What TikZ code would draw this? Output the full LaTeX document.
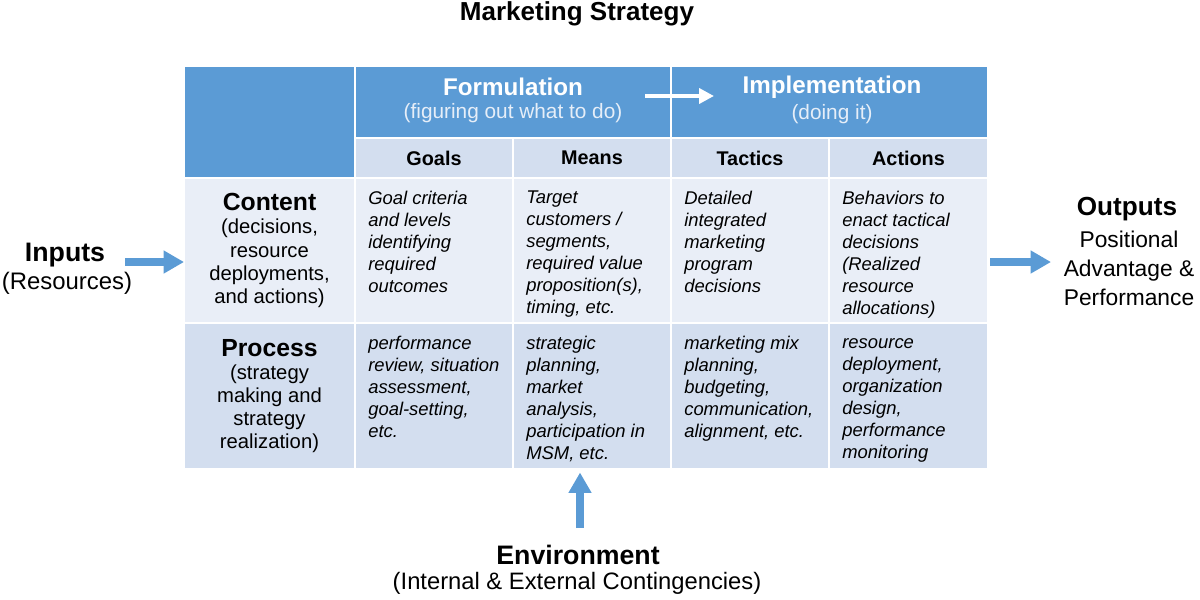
\documentclass[tikz,border=0pt]{standalone}
\usepackage{fontspec}
\setmainfont{Liberation Sans}
\usetikzlibrary{arrows.meta, positioning, fit}
\definecolor{msBlue}{HTML}{5B9BD5}
\definecolor{msBand}{HTML}{D3DEEF}
\definecolor{msLight}{HTML}{E9EEF7}
\definecolor{msSubtle}{HTML}{E6EEF8}
\tikzset{
  mscell/.style={draw=white, line width=2pt, fill=#1, inner sep=0pt, outer sep=0pt},
  mshead/.style={text=white, align=center, inner sep=0pt,
    font=\fontsize{17.2}{20}\selectfont\bfseries},
  mssubhead/.style={text=msSubtle, align=center, inner sep=0pt,
    font=\fontsize{14.8}{17}\selectfont},
  mscolhead/.style={align=center, inner sep=0pt,
    font=\fontsize{14.1}{16}\selectfont\bfseries},
  msrowhead/.style={align=center, inner sep=0pt,
    font=\fontsize{14.4}{16.4}\selectfont},
  mstext/.style={align=left, anchor=north west, inner sep=0pt,
    font=\fontsize{13.1}{15.6}\selectfont\itshape},
  msarrow/.style={-{Triangle[length=14.5pt, width=15.5pt]}, line width=5.6pt, draw=msBlue},
}

\begin{document}
\begin{tikzpicture}[x=0.025cm, y=-0.025cm]
  \useasboundingbox (0,0) rectangle (1200,599);

  % --- title ---------------------------------------------------------------
  \node[font=\fontsize{18.5}{21}\selectfont\bfseries] (title) at (577,14) {Marketing Strategy};

  % --- table cells -------------------------------------------------------
  \node[mscell=msBlue, fit={(184,66) (355,178)}]  (corner) {};
  \node[mscell=msBlue, fit={(355,66) (671,138)}]  (form)   {};
  \node[mscell=msBlue, fit={(671,66) (988,138)}]  (impl)   {};

  \node[mscell=msBand, fit={(355,138) (513,178)}] (goalsH) {};
  \node[mscell=msBand, fit={(513,138) (671,178)}] (meansH) {};
  \node[mscell=msBand, fit={(671,138) (829,178)}] (tactH)  {};
  \node[mscell=msBand, fit={(829,138) (988,178)}] (actH)   {};

  \node[mscell=msLight, fit={(184,178) (355,323)}] (contentR) {};
  \node[mscell=msLight, fit={(355,178) (513,323)}] (goalsC)   {};
  \node[mscell=msLight, fit={(513,178) (671,323)}] (meansC)   {};
  \node[mscell=msLight, fit={(671,178) (829,323)}] (tactC)    {};
  \node[mscell=msLight, fit={(829,178) (988,323)}] (actC)     {};

  \node[mscell=msBand, fit={(184,323) (355,469)}] (processR) {};
  \node[mscell=msBand, fit={(355,323) (513,469)}] (goalsP)   {};
  \node[mscell=msBand, fit={(513,323) (671,469)}] (meansP)   {};
  \node[mscell=msBand, fit={(671,323) (829,469)}] (tactP)    {};
  \node[mscell=msBand, fit={(829,323) (988,469)}] (actP)     {};

  % --- header texts --------------------------------------------------------
  \node[mshead]    (formT)  at (513,87)  {Formulation};
  \node[mssubhead] (formS)  at (513,113) {(figuring out what to do)};
  \node[mshead]    (implT)  at (832,87)  {Implementation};
  \node[mssubhead] (implS)  at (832,114) {(doing it)};
  \coordinate (fiStart) at (645,96);
  \coordinate (fiEnd)   at (714,96);
  \draw[-{Triangle[length=10.5pt, width=10.5pt]}, line width=2.8pt, draw=white] (fiStart) -- (fiEnd);

  \node[mscolhead] at (goalsH) {Goals};
  \node[mscolhead] at (meansH) {Means};
  \node[mscolhead] at (tactH)  {Tactics};
  \node[mscolhead] at (actH)   {Actions};

  % --- row headers ---------------------------------------------------------
  \node[msrowhead] (contentT) at (contentR) {{\fontsize{17.6}{20}\selectfont\bfseries Content}\\(decisions,\\resource\\deployments,\\and actions)};
  \node[msrowhead] (processT) at (processR) {{\fontsize{17.6}{20}\selectfont\bfseries Process}\\(strategy\\making and\\strategy\\realization)};

  % --- cell texts ----------------------------------------------------------
  \node[mstext] (goalsCt) at ([shift={(13,13)}]goalsC.north west) {Goal criteria\\and levels\\identifying\\required\\outcomes};
  \node[mstext] (meansCt) at ([shift={(13,13)}]meansC.north west) {Target\\customers /\\segments,\\required value\\proposition(s),\\timing, etc.};
  \node[mstext] (tactCt)  at ([shift={(13,13)}]tactC.north west)  {Detailed\\integrated\\marketing\\program\\decisions};
  \node[mstext] (actCt)   at ([shift={(13,13)}]actC.north west)   {Behaviors to\\enact tactical\\decisions\\(Realized\\resource\\allocations)};

  \node[mstext] (goalsPt) at ([shift={(13,13)}]goalsP.north west) {performance\\review, situation\\assessment,\\goal-setting,\\etc.};
  \node[mstext] (meansPt) at ([shift={(13,13)}]meansP.north west) {strategic\\planning,\\market\\analysis,\\participation in\\MSM, etc.};
  \node[mstext] (tactPt)  at ([shift={(13,13)}]tactP.north west)  {marketing mix\\planning,\\budgeting,\\communication,\\alignment, etc.};
  \node[mstext] (actPt)   at ([shift={(13,13)}]actP.north west)   {\vphantom{T}resource\\deployment,\\organization\\design,\\performance\\monitoring};

  % --- inputs / outputs / environment ---------------------------------------
  \node[font=\fontsize{19}{22}\selectfont\bfseries]  (inputs)   at (65,255) {Inputs};
  \node[font=\fontsize{17}{20}\selectfont]           (inputsS)  at (67,283) {(Resources)};
  \coordinate (inStart) at (125,262);
  \draw[msarrow] (inStart) -- (inStart -| contentR.west);

  \node[font=\fontsize{18.6}{21}\selectfont\bfseries] (outputs)  at (1127,209) {Outputs};
  \node[align=center, inner sep=0pt, font=\fontsize{16.2}{20.6}\selectfont]
        (outputsS) at (1129,268) {Positional\\Advantage \&\\Performance};
  \coordinate (outEnd) at (1051,262);
  \draw[msarrow] ([xshift=1.5pt]outEnd -| actC.east) -- (outEnd);

  \node[font=\fontsize{19}{22}\selectfont\bfseries] (env)  at (578,555) {Environment};
  \node[font=\fontsize{16.9}{20}\selectfont]        (envS) at (577,583) {(Internal \& External Contingencies)};
  \coordinate (envStart) at (580,528);
  \draw[msarrow] (envStart) -- ([yshift=-2.5pt]envStart |- meansP.south);

\end{tikzpicture}
\end{document}
